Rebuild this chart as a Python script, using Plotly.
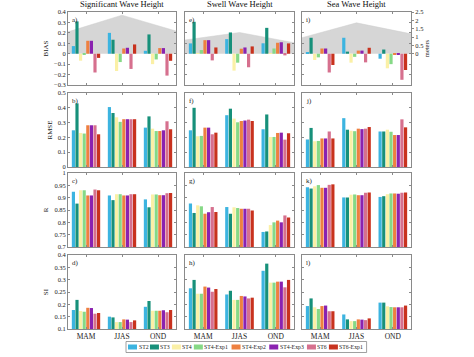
import numpy as np
import plotly.graph_objects as go

SEASONS = ["MAM", "JJAS", "OND"]
SERIES = ["ST2", "ST3", "ST4", "ST4-Exp1", "ST4-Exp2", "ST4-Exp3", "ST6", "ST6-Exp1"]
COLORS = ["#3cb4e0", "#17907a", "#fbf0a6", "#86d986", "#ee8040", "#8a22b0", "#d6708e", "#c8321e"]
WAVES = ["Significant Wave Height", "Swell Wave Height", "Sea Wave Height"]
METRICS = ["BIAS", "RMSE", "R", "SI"]

# values: one row per series (ST2 ... ST6-Exp1), columns = MAM, JJAS, OND
BIAS_SWH = [[0.073, 0.20, 0.028], [0.31, 0.134, 0.185], [-0.067, -0.166, -0.10], [-0.008, -0.08, -0.055],
            [0.124, 0.05, 0.054], [0.124, 0.057, 0.054], [-0.18, -0.146, -0.21], [-0.04, 0.089, -0.068]]
BIAS_SWELL = [[0.099, 0.14, 0.10], [0.306, 0.204, 0.248], [0.003, -0.162, 0.005], [0.035, -0.086, 0.05],
              [0.13, 0.048, 0.105], [0.13, 0.06, 0.11], [-0.064, -0.13, -0.016], [0.06, 0.07, 0.099]]
BIAS_SEA = [[0.013, 0.153, -0.048], [0.153, 0.02, 0.04], [-0.06, -0.086, -0.14], [-0.035, -0.03, -0.10],
            [0.05, 0.03, -0.003], [0.05, 0.03, -0.006], [-0.18, -0.083, -0.25], [-0.108, 0.057, -0.156]]

RMSE_SWH = [[0.248, 0.405, 0.266], [0.43, 0.365, 0.342], [0.23, 0.336, 0.259], [0.226, 0.305, 0.243],
            [0.282, 0.323, 0.243], [0.282, 0.323, 0.248], [0.282, 0.323, 0.309], [0.221, 0.323, 0.255]]
RMSE_SWELL = [[0.248, 0.35, 0.255], [0.40, 0.394, 0.355], [0.208, 0.327, 0.203], [0.21, 0.302, 0.203],
              [0.266, 0.311, 0.23], [0.266, 0.314, 0.232], [0.221, 0.32, 0.185], [0.232, 0.311, 0.228]]
RMSE_SEA = [[0.186, 0.33, 0.24], [0.264, 0.252, 0.24], [0.174, 0.245, 0.252], [0.176, 0.242, 0.238],
            [0.193, 0.259, 0.216], [0.193, 0.256, 0.216], [0.24, 0.259, 0.322], [0.193, 0.27, 0.268]]

R_SWH = [[0.924, 0.909, 0.893], [0.876, 0.89, 0.861], [0.93, 0.914, 0.913], [0.93, 0.914, 0.913],
         [0.909, 0.909, 0.91], [0.909, 0.909, 0.91], [0.933, 0.914, 0.918], [0.93, 0.914, 0.919]]
R_SWELL = [[0.876, 0.862, 0.761], [0.838, 0.835, 0.763], [0.869, 0.861, 0.789], [0.865, 0.858, 0.80],
           [0.835, 0.855, 0.807], [0.841, 0.855, 0.80], [0.862, 0.855, 0.828], [0.842, 0.848, 0.82]]
R_SEA = [[0.942, 0.901, 0.903], [0.937, 0.901, 0.906], [0.946, 0.912, 0.914], [0.951, 0.913, 0.917],
         [0.94, 0.91, 0.917], [0.94, 0.91, 0.916], [0.952, 0.92, 0.92], [0.954, 0.921, 0.921]]

SI_SWH = [[0.177, 0.15, 0.19], [0.218, 0.147, 0.2135], [0.173, 0.128, 0.174], [0.170, 0.128, 0.174],
          [0.186, 0.139, 0.174], [0.185, 0.138, 0.176], [0.162, 0.128, 0.168], [0.165, 0.135, 0.177]]
SI_SWELL = [[0.265, 0.24, 0.336], [0.299, 0.255, 0.365], [0.243, 0.218, 0.288], [0.243, 0.218, 0.288],
            [0.272, 0.234, 0.292], [0.268, 0.232, 0.292], [0.251, 0.224, 0.269], [0.262, 0.227, 0.299]]
SI_SEA = [[0.193, 0.159, 0.207], [0.224, 0.139, 0.207], [0.188, 0.132, 0.192], [0.181, 0.132, 0.189],
          [0.193, 0.139, 0.188], [0.195, 0.138, 0.188], [0.172, 0.136, 0.188], [0.172, 0.143, 0.195]]

# seasonal mean wave height (meters), grey area on right axis
MEAN_SWH = [1.31, 2.31, 1.36]
MEAN_SWELL = [0.82, 1.27, 0.66]
MEAN_SEA = [0.96, 1.85, 1.19]

PANELS = [[BIAS_SWH, BIAS_SWELL, BIAS_SEA],
          [RMSE_SWH, RMSE_SWELL, RMSE_SEA],
          [R_SWH, R_SWELL, R_SEA],
          [SI_SWH, SI_SWELL, SI_SEA]]
MEANS = [MEAN_SWH, MEAN_SWELL, MEAN_SEA]
YRANGES = [[-0.3, 0.4], [0, 0.5], [0.7, 1.0], [0.1, 0.4]]
YDTICK = [0.1, 0.1, 0.05, 0.05]
LETTERS = [["a)", "e)", "i)"], ["b)", "f)", "j)"], ["c)", "g)", "k)"], ["d)", "h)", "l)"]]
M_RANGE = [YRANGES[0][0] / 0.16, YRANGES[0][1] / 0.16]  # meters axis aligned with BIAS zero

FONT = "Liberation Serif"
W, H = 474, 357
L, T, R_, B = 68, 12, 63, 28
PW, PH = W - L - R_, H - T - B

def px(x):
    return (x - L) / PW

def py(y):
    return (T + PH - y) / PH

XDOM = [[px(68), px(176)], [px(185), px(294)], [px(302), px(411)]]
YDOM = [[py(85), py(12)], [py(167), py(93)], [py(247), py(173)], [py(329), py(255)]]

xpos = np.arange(len(SEASONS))
XR = [-0.5, len(SEASONS) - 0.5]

fig = go.Figure()
layout = {}
annotations = []
shapes = []
axcol = "#8a8a8a"
tickfont = dict(family=FONT, size=6.5, color="#222")

def nm(prefix, k):
    return prefix if k == 1 else f"{prefix}{k}"

for r in range(4):
    for c in range(3):
        k = r * 3 + c + 1
        xa, ya = nm("x", k), nm("y", k)
        layout[nm("xaxis", k)] = dict(
            domain=XDOM[c], anchor=ya, range=XR, tickvals=list(xpos), ticktext=SEASONS,
            showticklabels=(r == 3), ticks="inside", ticklen=2, tickcolor=axcol,
            showline=True, linecolor=axcol, linewidth=0.8, mirror="ticks",
            showgrid=False, zeroline=False, tickfont=dict(family=FONT, size=7.5, color="#222"))
        bar_y = ya
        ycfg = dict(
            domain=YDOM[r], anchor=xa, range=YRANGES[r], dtick=YDTICK[r], tick0=YRANGES[r][0],
            showticklabels=(c == 0), ticks="inside", ticklen=2, tickcolor=axcol,
            showline=True, linecolor=axcol, linewidth=0.8, mirror="ticks",
            showgrid=False, zeroline=False, tickfont=tickfont)
        if c == 0:
            ycfg["title"] = dict(text=METRICS[r], font=dict(family=FONT, size=7, color="#222"), standoff=4)
        if r == 0:
            # base axis: meters (right), overlay: BIAS (left) so bars are drawn above grey area
            ov = 12 + c + 1
            bar_y = f"y{ov}"
            mcfg = dict(domain=YDOM[r], anchor=xa, side="right", range=M_RANGE,
                        tickvals=[0, 0.5, 1, 1.5, 2, 2.5], ticktext=["0", "0.5", "1", "1.5", "2", "2.5"],
                        showticklabels=(c == 2), ticks=("outside" if c == 2 else ""), ticklen=2,
                        tickcolor=axcol, showline=False, showgrid=False, zeroline=False, tickfont=tickfont)
            if c == 2:
                mcfg["title"] = dict(text="meters", font=dict(family=FONT, size=6.5, color="#222"), standoff=2)
            layout[nm("yaxis", k)] = mcfg
            ycfg["overlaying"] = ya
            ycfg["side"] = "left"
            ycfg.pop("domain")
            layout[f"yaxis{ov}"] = ycfg
            fig.add_trace(go.Scatter(
                x=np.linspace(XR[0], XR[1], len(MEANS[c])), y=MEANS[c], xaxis=xa, yaxis=ya,
                mode="lines", fill="tozeroy", fillcolor="#d6d6d6", line=dict(width=0.5, color="#cfcfcf"),
                showlegend=False, hoverinfo="skip"))
        else:
            layout[nm("yaxis", k)] = ycfg
        data = PANELS[r][c]
        for s, name in enumerate(SERIES):
            fig.add_trace(go.Bar(
                x=xpos, y=data[s], name=name, marker=dict(color=COLORS[s], line=dict(width=0)),
                xaxis=xa, yaxis=bar_y, showlegend=False, offsetgroup=str(s)))
        annotations.append(dict(
            text=LETTERS[r][c], xref=f"{xa} domain", yref=f"{ya} domain", x=0.02, y=0.97,
            xanchor="left", yanchor="top", showarrow=False, font=dict(family=FONT, size=7, color="#222")))

for c, wname in enumerate(WAVES):
    annotations.append(dict(
        text=wname, xref="paper", yref="paper", x=(XDOM[c][0] + XDOM[c][1]) / 2, y=py(10.5),
        xanchor="center", yanchor="bottom", showarrow=False, font=dict(family=FONT, size=8.5, color="#111")))

# legend (drawn as a compact boxed row)
lx = 128
lx0 = lx - 2
for s, name in enumerate(SERIES):
    shapes.append(dict(type="rect", xref="paper", yref="paper", x0=px(lx), x1=px(lx + 9),
                       y0=py(349.5), y1=py(344.5), fillcolor=COLORS[s], line=dict(width=0)))
    annotations.append(dict(text=name, xref="paper", yref="paper", x=px(lx + 8.5), y=py(347),
                            xanchor="left", yanchor="middle", showarrow=False,
                            font=dict(family=FONT, size=5.8, color="#222")))
    lx += 10 + len(name) * 3.15 + 2.5
shapes.append(dict(type="rect", xref="paper", yref="paper", x0=px(lx0), x1=px(lx),
                   y0=py(352.5), y1=py(341.5), line=dict(width=0.8, color="#888"), fillcolor="rgba(0,0,0,0)"))

fig.update_layout(
    width=W, height=H, margin=dict(l=L, r=R_, t=T, b=B, autoexpand=False),
    paper_bgcolor="white", plot_bgcolor="white", barmode="group", bargap=0.2, bargroupgap=0.12,
    annotations=annotations, shapes=shapes, font=dict(family=FONT, size=7), showlegend=False,
    **layout)

fig.write_html("out.html", config={"displayModeBar": False},
               post_script="document.body.style.margin='0';document.body.style.padding='0';")
